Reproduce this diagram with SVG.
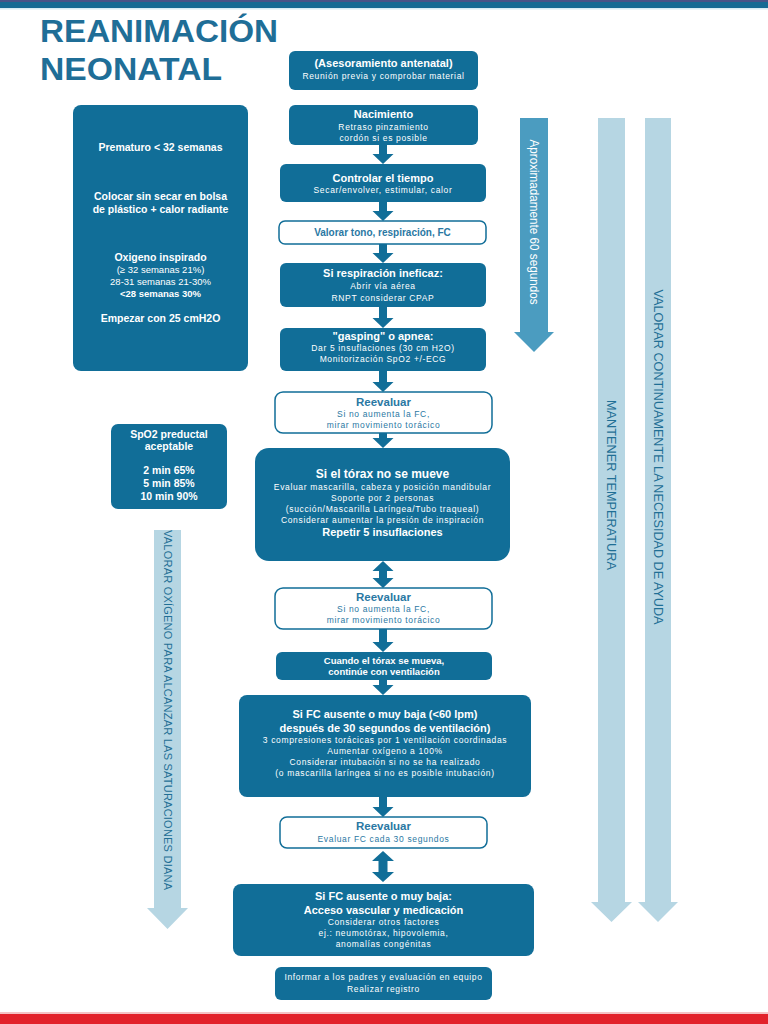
<svg xmlns="http://www.w3.org/2000/svg" width="768" height="1024" viewBox="0 0 768 1024">
<defs>
<style>
.n{fill:#116e98}
.w{fill:#fff;stroke:#116e98;stroke-width:1.5}
.arr{fill:#116e98}
text{font-family:'Liberation Sans',Arial,sans-serif;text-anchor:middle}
.tb{font-size:11px;font-weight:bold;fill:#fff}
.tb12{font-size:12px;font-weight:bold;fill:#fff}
.ts{font-size:8.5px;fill:#fff;letter-spacing:0.65px}
.wb{font-size:11.5px;font-weight:bold;fill:#2a78a3}
.ws{font-size:8.5px;fill:#2a78a3;letter-spacing:0.65px}
.wt{font-size:10px;font-weight:bold;fill:#2a78a3}
.lb{font-size:10.5px;font-weight:bold;fill:#fff}
.ln{font-size:9.5px;fill:#fff}
.big{fill:#b6d6e3}
.bt{font-size:13px;fill:#1f6f95;dominant-baseline:central}
.ttl{font-size:32px;font-weight:bold;text-anchor:start;fill:#1f6e97}
</style>
</defs>
<rect x="0" y="0" width="768" height="8" fill="#176b94"/>
<rect x="0" y="0" width="768" height="2" fill="#4a5488"/>
<rect x="0" y="8" width="768" height="1.5" fill="#d7ecf4"/>
<rect x="0" y="1014" width="768" height="10" fill="#e2222b"/>
<rect x="0" y="1012" width="768" height="2" fill="#f4c3c5"/>

<g id="title">
<text class="ttl" x="40" y="42" textLength="238" lengthAdjust="spacingAndGlyphs">REANIMACIÓN</text>
<text class="ttl" x="40" y="80" textLength="182" lengthAdjust="spacingAndGlyphs">NEONATAL</text>
</g>

<g id="side-arrows">
<path d="M520,118 H548 V332 H554 L534,352 L514,332 H520 Z" fill="#4b9cc0"/>
<text transform="translate(534,222) rotate(90)" style="font-size:12px;fill:#fff;dominant-baseline:central" textLength="165" lengthAdjust="spacingAndGlyphs">Aproximadamente 60 segundos</text>
<path class="big" d="M598,118 H625 V902 H632 L611.5,922 L591,902 H598 Z"/>
<text class="bt" transform="translate(611.5,485) rotate(90)" textLength="170" lengthAdjust="spacingAndGlyphs">MANTENER TEMPERATURA</text>
<path class="big" d="M645,118 H671 V902 H678 L658,922 L638,902 H645 Z"/>
<text class="bt" transform="translate(658,457) rotate(90)" textLength="335" lengthAdjust="spacingAndGlyphs">VALORAR CONTINUAMENTE LA NECESIDAD DE AYUDA</text>
<path class="big" d="M154,530 H181 V908 H188 L167.5,929 L147,908 H154 Z"/>
<text class="bt" transform="translate(167.5,710) rotate(90)" style="font-size:11px" textLength="360" lengthAdjust="spacing">VALORAR OXÍGENO PARA ALCANZAR LAS SATURACIONES DIANA</text>
</g>

<g id="connectors" class="arr">
<path d="M379,145 H387 V154 H393.5 L383,164 L372.5,154 H379 Z"/>
<path d="M379,202 H387 V211 H393.5 L383,221 L372.5,211 H379 Z"/>
<path d="M379,244 H387 V253 H393.5 L383,263 L372.5,253 H379 Z"/>
<path d="M379,307 H387 V318 H393.5 L383,328 L372.5,318 H379 Z"/>
<path d="M379,371 H387 V382 H393.5 L383,392 L372.5,382 H379 Z"/>
<path d="M379,433 H387 V438 H393.5 L383,448 L372.5,438 H379 Z"/>
<path d="M383,561 L393.5,571 H387 V578 H393.5 L383,588 L372.5,578 H379 V571 H372.5 Z"/>
<path d="M379,629 H387 V642 H393.5 L383,652 L372.5,642 H379 Z"/>
<path d="M379,680 H387 V685 H393.5 L383,695 L372.5,685 H379 Z"/>
<path d="M379,797 H387 V807 H393.5 L383,817 L372.5,807 H379 Z"/>
<path d="M383,851 L394,861 H387.5 V872 H394 L383,882 L372,872 H378.5 V861 H372 Z"/>
</g>

<g id="n-antenatal">
<rect class="n" x="289" y="51" width="189" height="39" rx="6"/>
<text class="tb" x="383.5" y="67">(Asesoramiento antenatal)</text>
<text class="ts" x="383.5" y="79">Reunión previa y comprobar material</text>
</g>

<g id="n-nacimiento">
<rect class="n" x="289" y="105" width="189" height="40" rx="6"/>
<text class="tb" x="383.5" y="118">Nacimiento</text>
<text class="ts" x="383.5" y="130">Retraso pinzamiento</text>
<text class="ts" x="383.5" y="141">cordón si es posible</text>
</g>

<g id="n-controlar">
<rect class="n" x="280" y="164" width="206" height="38" rx="6"/>
<text class="tb" x="383" y="182">Controlar el tiempo</text>
<text class="ts" x="383" y="193">Secar/envolver, estimular, calor</text>
</g>

<g id="n-valorar">
<rect class="w" x="279" y="221" width="207" height="23" rx="6"/>
<text class="wt" x="382.5" y="236">Valorar tono, respiración, FC</text>
</g>

<g id="n-respiracion">
<rect class="n" x="280" y="263" width="206" height="44" rx="6"/>
<text class="tb" x="383" y="277">Si respiración ineficaz:</text>
<text class="ts" x="383" y="289">Abrir vía aérea</text>
<text class="ts" x="383" y="301">RNPT considerar CPAP</text>
</g>

<g id="n-gasping">
<rect class="n" x="280" y="328" width="206" height="43" rx="6"/>
<text class="tb" x="383" y="340">"gasping" o apnea:</text>
<text class="ts" x="383" y="351">Dar 5 insuflaciones (30 cm H2O)</text>
<text class="ts" x="383" y="362">Monitorización SpO2 +/-ECG</text>
</g>

<g id="n-reevaluar1">
<rect class="w" x="275" y="392" width="217" height="41" rx="8"/>
<text class="wb" x="383.5" y="406">Reevaluar</text>
<text class="ws" x="383.5" y="417">Si no aumenta la FC,</text>
<text class="ws" x="383.5" y="428">mirar movimiento torácico</text>
</g>

<g id="n-torax">
<rect class="n" x="255" y="448" width="255" height="113" rx="14"/>
<text class="tb12" x="382.5" y="478">Si el tórax no se mueve</text>
<text class="ts" x="382.5" y="490">Evaluar mascarilla, cabeza y posición mandibular</text>
<text class="ts" x="382.5" y="501">Soporte por 2 personas</text>
<text class="ts" x="382.5" y="512">(succión/Mascarilla Laríngea/Tubo traqueal)</text>
<text class="ts" x="382.5" y="523">Considerar aumentar la presión de inspiración</text>
<text class="tb" x="382.5" y="536">Repetir 5 insuflaciones</text>
</g>

<g id="n-reevaluar2">
<rect class="w" x="275" y="588" width="217" height="41" rx="8"/>
<text class="wb" x="383.5" y="601">Reevaluar</text>
<text class="ws" x="383.5" y="612">Si no aumenta la FC,</text>
<text class="ws" x="383.5" y="623">mirar movimiento torácico</text>
</g>

<g id="n-cuando">
<rect class="n" x="276" y="652" width="216" height="28" rx="6"/>
<text x="384" y="664" style="font-size:9.5px;font-weight:bold;fill:#fff">Cuando el tórax se mueva,</text>
<text x="384" y="675" style="font-size:9.5px;font-weight:bold;fill:#fff">continúe con ventilación</text>
</g>

<g id="n-fc60">
<rect class="n" x="239" y="695" width="292" height="102" rx="8"/>
<text class="tb" x="385" y="718">Si FC ausente o muy baja (&lt;60 lpm)</text>
<text class="tb" x="385" y="732">después de 30 segundos de ventilación)</text>
<text class="ts" x="385" y="743">3 compresiones torácicas por 1 ventilación coordinadas</text>
<text class="ts" x="385" y="754">Aumentar oxígeno a 100%</text>
<text class="ts" x="385" y="765">Considerar intubación si no se ha realizado</text>
<text class="ts" x="385" y="776">(o mascarilla laríngea si no es posible intubación)</text>
</g>

<g id="n-reevaluar3">
<rect class="w" x="280" y="817" width="207" height="31" rx="7"/>
<text class="wb" x="383.5" y="830">Reevaluar</text>
<text class="ws" x="383.5" y="842">Evaluar FC cada 30 segundos</text>
</g>

<g id="n-medicacion">
<rect class="n" x="233" y="884" width="301" height="72" rx="8"/>
<text class="tb" x="383.5" y="900">Si FC ausente o muy baja:</text>
<text class="tb" x="383.5" y="914">Acceso vascular y medicación</text>
<text class="ts" x="383.5" y="925">Considerar otros factores</text>
<text class="ts" x="383.5" y="936">ej.: neumotórax, hipovolemia,</text>
<text class="ts" x="383.5" y="947">anomalías congénitas</text>
</g>

<g id="n-informar">
<rect class="n" x="275" y="967" width="217" height="33" rx="6"/>
<text class="ts" x="383.5" y="980">Informar a los padres y evaluación en equipo</text>
<text class="ts" x="383.5" y="992">Realizar registro</text>
</g>

<g id="n-prematuro">
<rect class="n" x="73" y="105" width="175" height="266" rx="8"/>
<text class="lb" x="160.5" y="151">Prematuro &lt; 32 semanas</text>
<text class="lb" x="160.5" y="200">Colocar sin secar en bolsa</text>
<text class="lb" x="160.5" y="213">de plástico + calor radiante</text>
<text class="lb" x="160.5" y="261">Oxigeno inspirado</text>
<text class="ln" x="160.5" y="273">(≥ 32 semanas 21%)</text>
<text class="ln" x="160.5" y="285">28-31 semanas 21-30%</text>
<text class="lb" x="160.5" y="297" style="font-size:9.5px">&lt;28 semanas 30%</text>
<text class="lb" x="160.5" y="322">Empezar con 25 cmH2O</text>
</g>

<g id="n-spo2">
<rect class="n" x="111" y="424" width="116" height="85" rx="7"/>
<text class="lb" x="169" y="438">SpO2 preductal</text>
<text class="lb" x="169" y="450">aceptable</text>
<text class="lb" x="169" y="474">2 min 65%</text>
<text class="lb" x="169" y="487">5 min 85%</text>
<text class="lb" x="169" y="500">10 min 90%</text>
</g>
</svg>
